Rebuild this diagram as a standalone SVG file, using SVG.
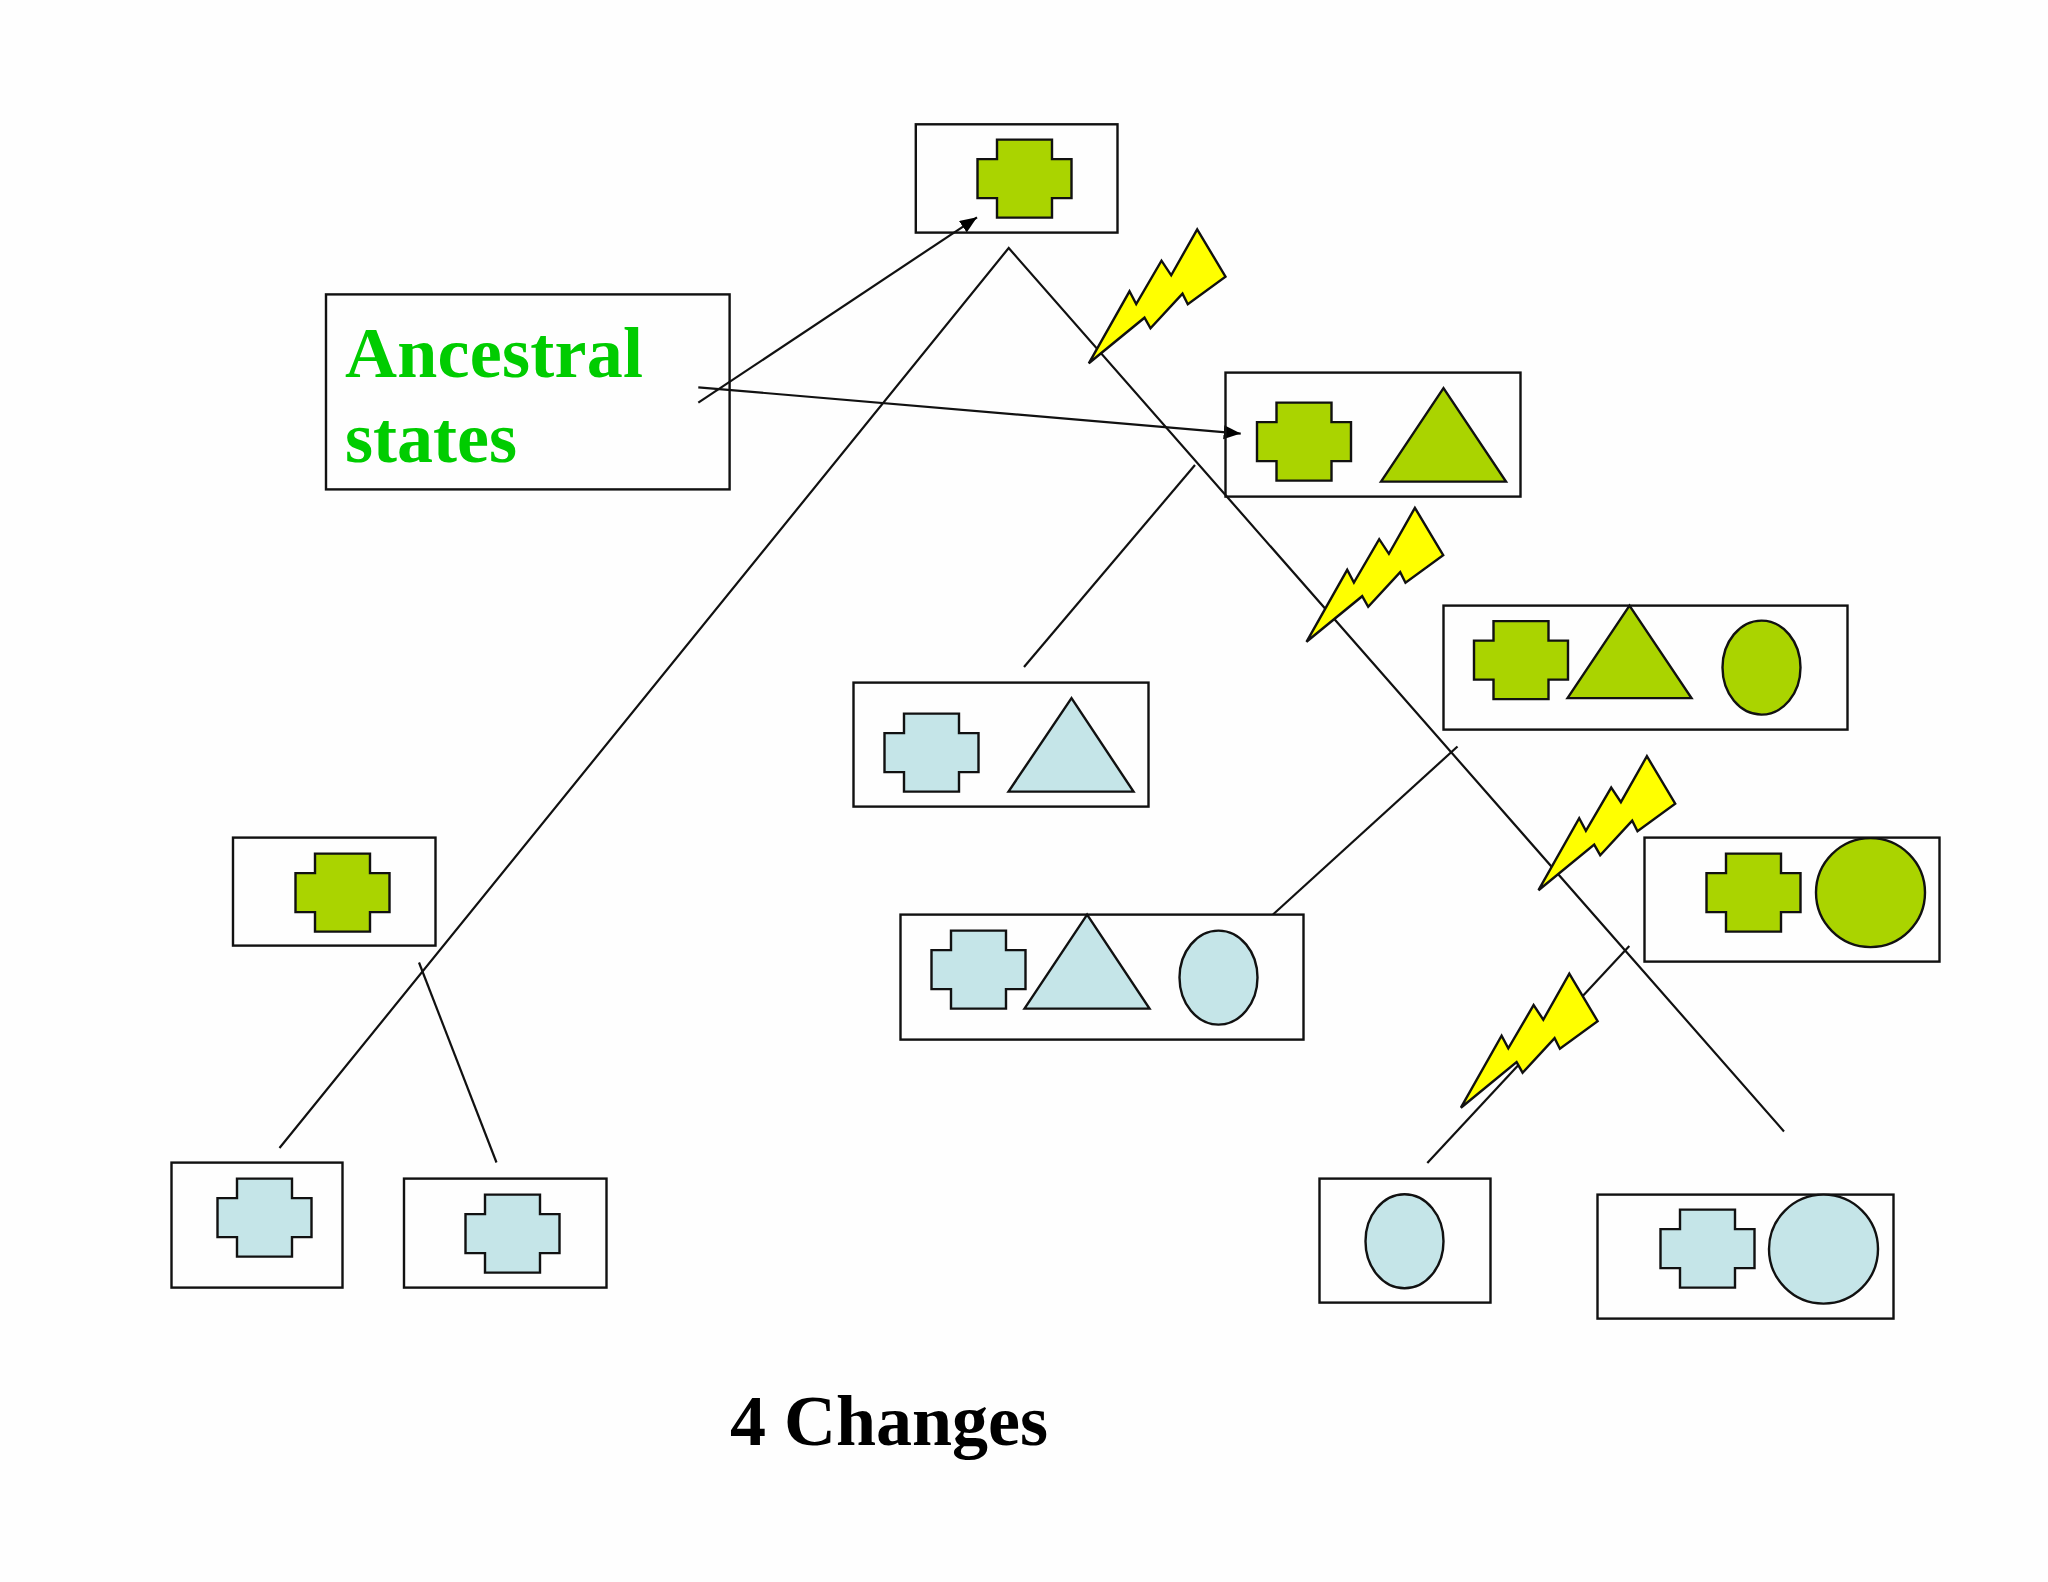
<svg xmlns="http://www.w3.org/2000/svg" width="2048" height="1582" viewBox="0 0 2048 1582">
<style>
.box{fill:none;stroke:#111;stroke-width:2.4}
.g{fill:#aad400}.b{fill:#c5e5e8}
.g polygon,.g ellipse,.g circle,.b polygon,.b ellipse,.b circle,.g use,.b use{stroke:#111;stroke-width:2.4}
.line{fill:none;stroke:#111;stroke-width:2.2}
.bolt{fill:#ffff00;stroke:#111;stroke-width:2.4;stroke-linejoin:miter}
.t{font-family:"Liberation Serif","Times New Roman",serif;font-weight:bold;font-size:72px}
</style>
<defs>
<path id="cross" d="M19.5 0H74.5V19.5H94V58.5H74.5V78H19.5V58.5H0V19.5H19.5Z"/>
<path id="zap" d="M0 0L40.7-72L47.4-59.3L72.7-102.6L82.4-88L108.4-134L136.7-86.6L99-59L93.7-69.6L61.7-35L55.7-45.6Z"/>
<marker id="ah" markerUnits="userSpaceOnUse" markerWidth="20" markerHeight="16" refX="17" refY="7" orient="auto"><path d="M0 0L17 7L0 14Z" fill="#000"/></marker>
</defs>
<rect width="2048" height="1582" fill="#fefefe"/>
<g id="connectors">
<path class="line" d="M279.5 1148L1008.7 248L1784 1131.5"/>
<path class="line" d="M1195 465L1024 667"/>
<path class="line" d="M1457.5 746.5L1273 914.5"/>
<path class="line" d="M1629.3 946L1427.3 1163"/>
<path class="line" d="M419 962.5L496.5 1162.5"/>
<path class="line" marker-end="url(#ah)" d="M698.3 402.7L977 217.3"/>
<path class="line" marker-end="url(#ah)" d="M698.3 387.3L1240.7 433.6"/>
</g>
<g transform="translate(0.5 0.6)">
<g id="node-root"><rect class="box" x="915.3" y="123.7" width="201.7" height="108.3"/><g class="g"><use href="#cross" x="977" y="139"/></g></g>
<g id="node-ancestral"><rect class="box" x="325.5" y="293.8" width="403.6" height="195"/>
<text class="t" x="344.5" y="376.4" fill="#00cc00" style="letter-spacing:.25px">Ancestral</text><text class="t" x="344.5" y="461.8" fill="#00cc00">states</text></g>
<g id="node-a"><rect class="box" x="1225" y="372" width="295" height="124"/><g class="g"><use href="#cross" x="1256.5" y="402"/><polygon points="1380.5,481 1443,387.5 1505.5,481"/></g></g>
<g id="node-b"><rect class="box" x="1443" y="605" width="404" height="124"/><g class="g"><use href="#cross" x="1473.5" y="620.5"/><polygon points="1567,697.5 1629,605 1691,697.5"/><ellipse cx="1761" cy="667" rx="39" ry="47"/></g></g>
<g id="node-c"><rect class="box" x="1644" y="837" width="295" height="124"/><g class="g"><use href="#cross" x="1706" y="853"/><circle cx="1870" cy="892" r="54.5"/></g></g>
<g id="node-d"><rect class="box" x="853" y="682" width="295" height="124"/><g class="b"><use href="#cross" x="884" y="713"/><polygon points="1008,791 1071,697.5 1133,791"/></g></g>
<g id="node-e"><rect class="box" x="900" y="914" width="403" height="125"/><g class="b"><use href="#cross" x="931" y="930"/><polygon points="1024,1008 1086.6,914 1149,1008"/><ellipse cx="1218" cy="977" rx="39" ry="47"/></g></g>
<g id="node-f"><rect class="box" x="232.5" y="837" width="202.5" height="108"/><g class="g"><use href="#cross" x="295" y="853"/></g></g>
<g id="node-g"><rect class="box" x="171" y="1162" width="171" height="125"/><g class="b"><use href="#cross" x="217" y="1178"/></g></g>
<g id="node-h"><rect class="box" x="403.5" y="1178" width="202.5" height="109"/><g class="b"><use href="#cross" x="465" y="1194"/></g></g>
<g id="node-i"><rect class="box" x="1319" y="1178" width="171" height="124"/><g class="b"><ellipse cx="1404" cy="1240.7" rx="39" ry="47"/></g></g>
<g id="node-j"><rect class="box" x="1597" y="1194" width="296" height="124"/><g class="b"><use href="#cross" x="1660" y="1209"/><circle cx="1823" cy="1248.5" r="54.5"/></g></g>
</g>
<g id="bolts">
<use class="bolt" href="#zap" x="1088.8" y="363.3"/>
<use class="bolt" href="#zap" x="1306.5" y="641.8"/>
<use class="bolt" href="#zap" x="1538.5" y="890.2"/>
<use class="bolt" href="#zap" x="1460.9" y="1107.7"/>
</g>
<g id="caption"><text class="t" x="730" y="1444.5" fill="#000">4 Changes</text></g>
</svg>
